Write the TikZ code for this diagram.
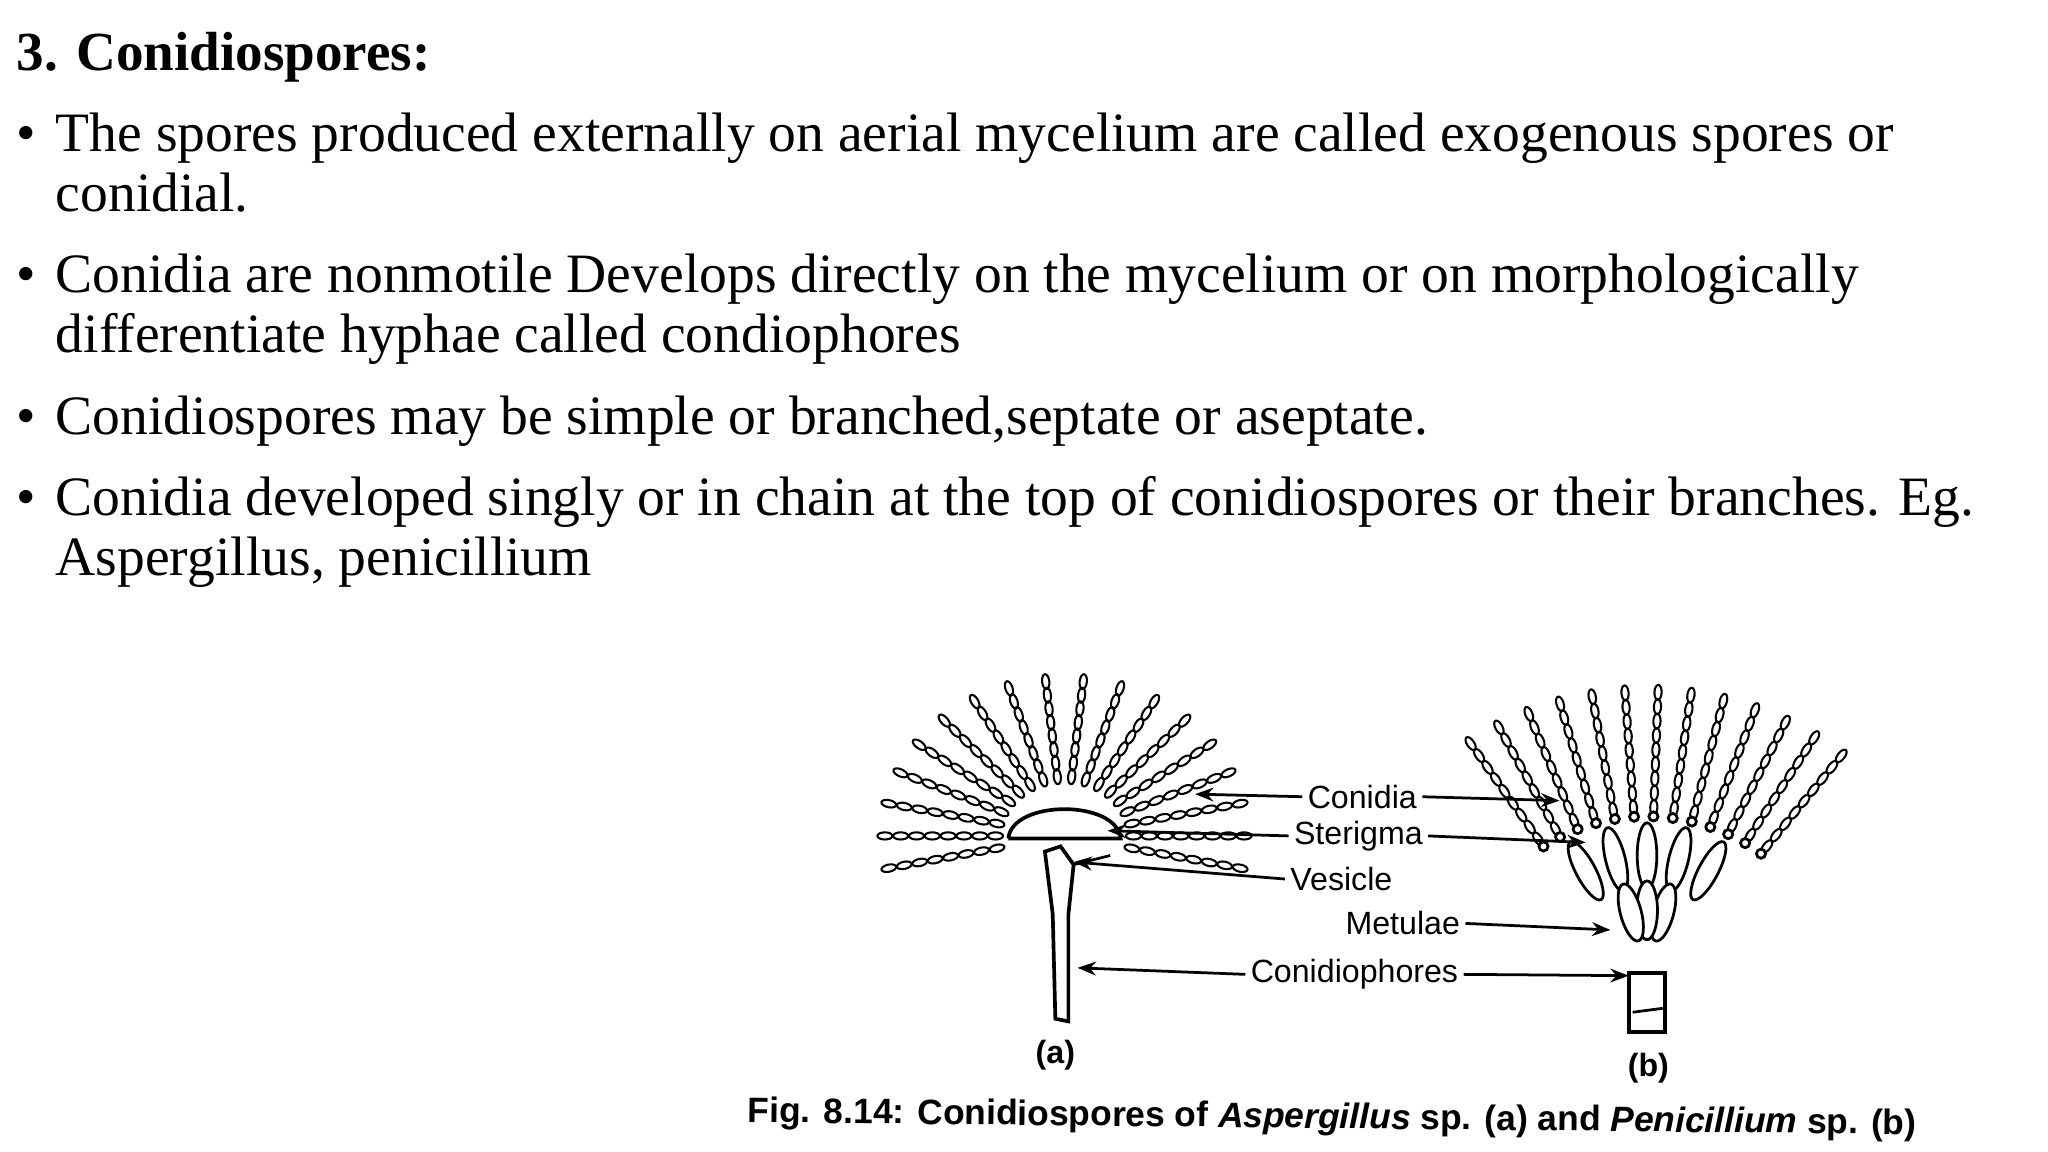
\documentclass[tikz,border=0pt]{standalone}
\usepackage{fontspec}
\setmainfont{Liberation Serif}
\newfontfamily\lsans{Liberation Sans}
\usetikzlibrary{shapes.geometric,arrows.meta}
\begin{document}
\begin{tikzpicture}[x=0.01cm,y=-0.01cm,
  body/.style={anchor=base west,inner sep=0pt,font=\fontsize{12.1}{14}\selectfont,align=left},
  lbl/.style={font=\lsans\fontsize{7}{8}\selectfont,inner sep=1pt},
  arr/.style={-{Stealth[length=4pt]},line width=0.6pt},
  spore/.style={draw,ellipse,line width=0.45pt,inner sep=0,minimum width=0.115cm,minimum height=0.055cm},
  part/.style={draw,ellipse,line width=0.6pt,inner sep=0,fill=white}]
\useasboundingbox (0,0) rectangle (1568,882);
\node[body,font=\bfseries\fontsize{12}{14}\selectfont] (t) at (12,54) {3. Conidiospores:};
\foreach \y/\n in {116/b1,224/b2,333/b3,395/b4} \node[anchor=base west,inner sep=0pt,font=\fontsize{12.1}{14}\selectfont] (\n) at (12,\y) {•};
\node[body] (l1) at (42,116) {The spores produced externally on aerial mycelium are called exogenous spores or};
\node[body] (l1b) at (42,162) {conidial.};
\node[body] (l2) at (42,224) {Conidia are nonmotile Develops directly on the mycelium or on morphologically};
\node[body] (l2b) at (42,270) {differentiate hyphae called condiophores};
\node[body] (l3) at (42,333) {Conidiospores may be simple or branched,septate or aseptate.};
\node[body] (l4) at (42,395) {Conidia developed singly or in chain at the top of conidiospores or their branches. Eg.};
\node[body] (l4b) at (42,441) {Aspergillus, penicillium};
% Aspergillus
\foreach \a in {-12,0,12,...,192} {
  \foreach \k in {0,...,7} {
    \pgfmathsetmacro{\r}{48+\k*11}
    \node[spore,rotate=\a] at ({815+\r*cos(\a)*1.1},{640-\r*sin(\a)*0.95}) {};
  }
}
\draw[line width=0.8pt,fill=white] (772,642) .. controls (775,612) and (855,612) .. (858,642) -- (772,642);
\draw[line width=0.8pt,fill=white] (800,652) -- (806,700) -- (808,780) -- (818,782) -- (818,700) -- (822,662) -- (812,648) -- cycle;
\draw[line width=0.6pt] (822,662) -- (850,655);
% Penicillium
\foreach \a in {52,58,...,128} {
  \foreach \k in {0,...,8} {
    \pgfmathsetmacro{\r}{142+\k*11}
    \node[spore,rotate=\a] at ({1261+\r*cos(\a)*1.05},{760-\r*sin(\a)}) {};
  }
  \node[part,minimum size=0.07cm] at ({1261+135*cos(\a)*1.05},{760-135*sin(\a)}) {};
}
\foreach \a in {62,76,90,104,118} \node[part,rotate=\a,minimum width=0.5cm,minimum height=0.15cm] at ({1261+100*cos(\a)},{755-100*sin(\a)}) {};
\foreach \a in {75,90,105} \node[part,rotate=\a,minimum width=0.45cm,minimum height=0.16cm] at ({1261+48*cos(\a)},{745-48*sin(\a)}) {};
\draw[line width=0.8pt,fill=white] (1247,745) rectangle (1275,790);
\draw[line width=0.6pt] (1250,775) -- (1273,772);
% labels
\node[lbl] (co) at (1043,610) {Conidia};
\node[lbl] (st) at (1040,640) {Sterigma};
\node[lbl] (ve) at (1027,673) {Vesicle};
\node[lbl] (me) at (1074,707) {Metulae};
\node[lbl] (cp) at (1037,746) {Conidiophores};
\coordinate (a1) at (915,608); \coordinate (b1) at (1194,613);
\coordinate (a2) at (848,636); \coordinate (b2) at (1214,645);
\coordinate (a3) at (822,660); \coordinate (b4) at (1233,712);
\coordinate (a5) at (825,741); \coordinate (b5) at (1247,747);
\draw[arr] (co.west) -- (a1); \draw[arr] (co.east) -- (b1);
\draw[arr] (st.west) -- (a2); \draw[arr] (st.east) -- (b2);
\draw[arr] (ve.west) -- (a3);
\draw[arr] (me.east) -- (b4);
\draw[arr] (cp.west) -- (a5); \draw[arr] (cp.east) -- (b5);
\node[lbl,font=\lsans\bfseries\fontsize{7}{8}\selectfont] (la) at (808,808) {(a)};
\node[lbl,font=\lsans\bfseries\fontsize{7}{8}\selectfont] (lb) at (1262,818) {(b)};
\node[lbl,font=\lsans\bfseries\fontsize{7.7}{9}\selectfont,rotate=-0.6] (cap) at (1020,857) {Fig. 8.14: Conidiospores of \textit{Aspergillus} sp. (a) and \textit{Penicillium} sp. (b)};
\end{tikzpicture}
\end{document}
